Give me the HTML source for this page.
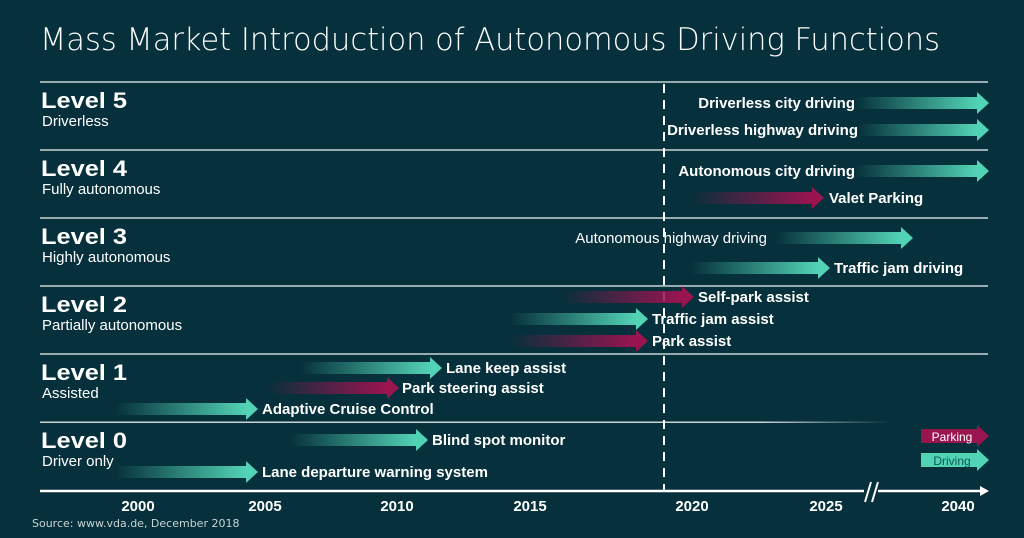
<!DOCTYPE html>
<html><head><meta charset="utf-8"><style>
html,body{margin:0;padding:0;background:#06303b;}
svg{display:block;font-family:"Liberation Sans",sans-serif;}
</style></head><body>
<svg width="1024" height="538" viewBox="0 0 1024 538" xmlns="http://www.w3.org/2000/svg">
<defs>
<linearGradient id="gt" x1="0" x2="1" y1="0" y2="0"><stop offset="0" stop-color="#52d3b5" stop-opacity="0"/><stop offset="1" stop-color="#52d3b5"/></linearGradient>
<linearGradient id="gm" x1="0" x2="1" y1="0" y2="0"><stop offset="0" stop-color="#9a1450" stop-opacity="0"/><stop offset="1" stop-color="#9a1450"/></linearGradient>
<linearGradient id="gl" x1="0" x2="1" y1="0" y2="0"><stop offset="0.85" stop-color="#c8d4d6"/><stop offset="1" stop-color="#c8d4d6" stop-opacity="0"/></linearGradient>
</defs>
<rect width="1024" height="538" fill="#06303b"/>
<text x="40" y="50" fill="#fff" font-size="31" font-family="DejaVu Sans, sans-serif" font-weight="300" textLength="900" lengthAdjust="spacingAndGlyphs">Mass Market Introduction of Autonomous Driving Functions</text>
<g stroke="#c8d4d6" stroke-width="1.5">
<line x1="40" x2="988" y1="82" y2="82"/><line x1="40" x2="988" y1="150" y2="150"/><line x1="40" x2="988" y1="218" y2="218"/><line x1="40" x2="988" y1="286" y2="286"/><line x1="40" x2="988" y1="354" y2="354"/>
</g>
<rect x="40" y="421.5" width="850" height="1.5" fill="url(#gl)"/>
<line x1="40" x2="982" y1="491" y2="491" stroke="#fff" stroke-width="2.5"/>
<polygon points="980,486 989,491 980,496" fill="#fff"/>
<rect x="864" y="484" width="14" height="14" fill="#06303b"/>
<line x1="865" y1="502" x2="871" y2="482" stroke="#fff" stroke-width="2"/>
<line x1="872" y1="502" x2="878" y2="482" stroke="#fff" stroke-width="2"/>
<line x1="664" x2="664" y1="84" y2="490" stroke="#fff" stroke-width="2" stroke-dasharray="9,7"/>
<g fill="#fff" font-weight="bold" font-size="22">
<text x="41" y="108" textLength="86" lengthAdjust="spacingAndGlyphs">Level 5</text><text x="41" y="176" textLength="86" lengthAdjust="spacingAndGlyphs">Level 4</text><text x="41" y="244" textLength="86" lengthAdjust="spacingAndGlyphs">Level 3</text><text x="41" y="312" textLength="86" lengthAdjust="spacingAndGlyphs">Level 2</text><text x="41" y="380" textLength="86" lengthAdjust="spacingAndGlyphs">Level 1</text><text x="41" y="448" textLength="86" lengthAdjust="spacingAndGlyphs">Level 0</text>
</g>
<g fill="#fff" font-size="15">
<text x="42" y="126">Driverless</text><text x="42" y="194">Fully autonomous</text><text x="42" y="262">Highly autonomous</text><text x="42" y="330">Partially autonomous</text><text x="42" y="398">Assisted</text><text x="42" y="466">Driver only</text>
</g>
<g id="arrows">
<rect x="855" y="97" width="122" height="12" fill="url(#gt)"/><polygon points="977,92 989,103 977,114" fill="#52d3b5"/>
<rect x="858" y="124" width="119" height="12" fill="url(#gt)"/><polygon points="977,119 989,130 977,141" fill="#52d3b5"/>
<rect x="855" y="165" width="122" height="12" fill="url(#gt)"/><polygon points="977,160 989,171 977,182" fill="#52d3b5"/>
<rect x="690" y="192" width="122" height="12" fill="url(#gm)"/><polygon points="812,187 824,198 812,209" fill="#9a1450"/>
<rect x="775" y="232" width="126" height="12" fill="url(#gt)"/><polygon points="901,227 913,238 901,249" fill="#52d3b5"/>
<rect x="690" y="262" width="128" height="12" fill="url(#gt)"/><polygon points="818,257 830,268 818,279" fill="#52d3b5"/>
<rect x="560" y="291" width="122" height="12" fill="url(#gm)"/><polygon points="682,286 694,297 682,308" fill="#9a1450"/>
<rect x="510" y="313" width="126" height="12" fill="url(#gt)"/><polygon points="636,308 648,319 636,330" fill="#52d3b5"/>
<rect x="510" y="335" width="126" height="12" fill="url(#gm)"/><polygon points="636,330 648,341 636,352" fill="#9a1450"/>
<rect x="300" y="362" width="130" height="12" fill="url(#gt)"/><polygon points="430,357 442,368 430,379" fill="#52d3b5"/>
<rect x="265" y="382" width="122" height="12" fill="url(#gm)"/><polygon points="387,377 399,388 387,399" fill="#9a1450"/>
<rect x="115" y="403" width="131" height="12" fill="url(#gt)"/><polygon points="246,398 258,409 246,420" fill="#52d3b5"/>
<rect x="290" y="434" width="126" height="12" fill="url(#gt)"/><polygon points="416,429 428,440 416,451" fill="#52d3b5"/>
<rect x="115" y="466" width="131" height="12" fill="url(#gt)"/><polygon points="246,461 258,472 246,483" fill="#52d3b5"/>
</g>
<g fill="#fff" font-size="15" font-weight="bold">
<text x="855" y="108" text-anchor="end">Driverless city driving</text>
<text x="858" y="135" text-anchor="end">Driverless highway driving</text>
<text x="855" y="176" text-anchor="end">Autonomous city driving</text>
<text x="829" y="203">Valet Parking</text>
<text x="834" y="273">Traffic jam driving</text>
<text x="698" y="302">Self-park assist</text>
<text x="652" y="324">Traffic jam assist</text>
<text x="652" y="346">Park assist</text>
<text x="446" y="373">Lane keep assist</text>
<text x="402" y="393">Park steering assist</text>
<text x="262" y="414">Adaptive Cruise Control</text>
<text x="432" y="445">Blind spot monitor</text>
<text x="262" y="477">Lane departure warning system</text>
</g>
<text x="767" y="243" fill="#fff" font-size="15" text-anchor="end">Autonomous highway driving</text>
<rect x="921" y="429" width="57" height="14" fill="#9a1450"/><polygon points="977,425 989,436 977,447" fill="#9a1450"/>
<rect x="921" y="453" width="57" height="14" fill="#52d3b5"/><polygon points="977,449 989,460 977,471" fill="#52d3b5"/>
<text x="952" y="441" fill="#fff" font-size="12" text-anchor="middle">Parking</text>
<text x="952" y="465" fill="#0b5a56" font-size="12" text-anchor="middle">Driving</text>
<g fill="#fff" font-size="15" font-weight="bold" text-anchor="middle">
<text x="138" y="511">2000</text><text x="265" y="511">2005</text><text x="397" y="511">2010</text><text x="530" y="511">2015</text><text x="692" y="511">2020</text><text x="826" y="511">2025</text><text x="958" y="511">2040</text>
</g>
<text x="32" y="527" fill="#c8d4d6" font-size="11" font-family="DejaVu Sans, sans-serif">Source: www.vda.de, December 2018</text>
</svg>
</body></html>
